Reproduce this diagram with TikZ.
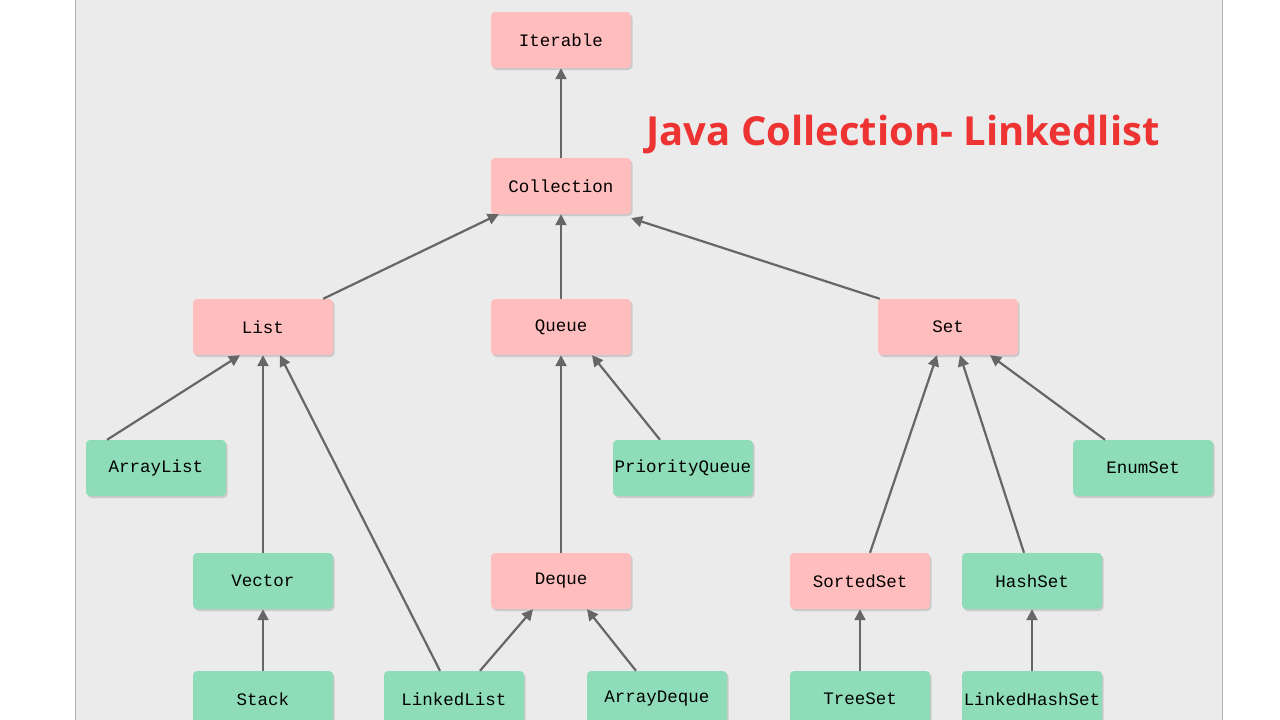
\documentclass[tikz,border=0pt]{standalone}
\usepackage{fontspec}
\setmainfont{Liberation Sans}
\setmonofont{Liberation Mono}
\newfontfamily\titlefont{Open Sans}
\usetikzlibrary{shadows,arrows.meta}
\definecolor{pinkn}{HTML}{FFBDBD}
\definecolor{greenn}{HTML}{8EDDB8}
\definecolor{panel}{HTML}{EBEBEB}
\definecolor{edge}{HTML}{666666}
\definecolor{titlered}{HTML}{EE3333}
\begin{document}
\begin{tikzpicture}[x=1pt,y=-1pt,
  box/.style={rectangle,rounded corners=4pt,minimum width=140pt,minimum height=56pt,inner sep=0pt,
    font=\ttfamily\fontsize{17.5}{20}\selectfont,drop shadow={shadow xshift=1.5pt,shadow yshift=-2pt,opacity=0.3}},
  pk/.style={box,fill=pinkn},
  gn/.style={box,fill=greenn},
  ar/.style={draw=edge,line width=2.2pt,-{Triangle[length=11pt,width=11pt]}}]
\useasboundingbox (0,0) rectangle (1280,720);
\fill[white] (0,0) rectangle (1280,720);
\fill[panel] (75,0) rectangle (1222,720);
\draw[gray!60,line width=1pt] (75,0) -- (75,720) (1222,0) -- (1222,720);
\node[pk] (it) at (561,40) {Iterable};
\node[pk] (co) at (561,186) {Collection};
\node[pk] (li) at (263,327) {List};
\node[pk] (qu) at (561,327) {Queue};
\node[pk] (se) at (948,327) {Set};
\node[gn] (al) at (156,468) {ArrayList};
\node[gn] (pq) at (683,468) {PriorityQueue};
\node[gn] (es) at (1143,468) {EnumSet};
\node[gn] (ve) at (263,581) {Vector};
\node[pk] (de) at (561,581) {Deque};
\node[pk] (ss) at (860,581) {SortedSet};
\node[gn] (hs) at (1032,581) {HashSet};
\node[gn] (st) at (263,699) {Stack};
\node[gn] (ll) at (454,699) {LinkedList};
\node[gn] (ad) at (657,699) {ArrayDeque};
\node[gn] (ts) at (860,699) {TreeSet};
\node[gn] (lh) at (1032,699) {LinkedHashSet};
\node[text=titlered,font=\titlefont\bfseries\fontsize{40}{44}\selectfont] (title) at (903,135) {Java Collection- Linkedlist};
\draw[ar] (co) -- (it);
\draw[ar] (li.north east)++(-10,0) -- ([xshift=8pt]co.south west);
\draw[ar] (qu) -- (co);
\draw[ar] ([xshift=2pt]se.north west) -- ([yshift=-4pt]co.south east);
\draw[ar] ([xshift=-49pt]al.north) -- ([xshift=-23pt]li.south) ;
\draw[ar] (ve) -- (li);
\draw[ar] ([xshift=-14pt]ll.north) -- ([xshift=17pt]li.south);
\draw[ar] ([xshift=-23pt]pq.north) -- ([xshift=31pt]qu.south);
\draw[ar] (de) -- (qu);
\draw[ar] ([xshift=26pt]ll.north) -- ([xshift=-28pt]de.south);
\draw[ar] ([xshift=-21pt]ad.north) -- ([xshift=26pt]de.south);
\draw[ar] ([xshift=10pt]ss.north) -- ([xshift=-11pt]se.south);
\draw[ar] ([xshift=-8pt]hs.north) -- ([xshift=12pt]se.south);
\draw[ar] ([xshift=-38pt]es.north) -- ([xshift=42pt]se.south);
\draw[ar] (st) -- (ve);
\draw[ar] (ts) -- (ss);
\draw[ar] (lh) -- (hs);
\end{tikzpicture}
\end{document}
